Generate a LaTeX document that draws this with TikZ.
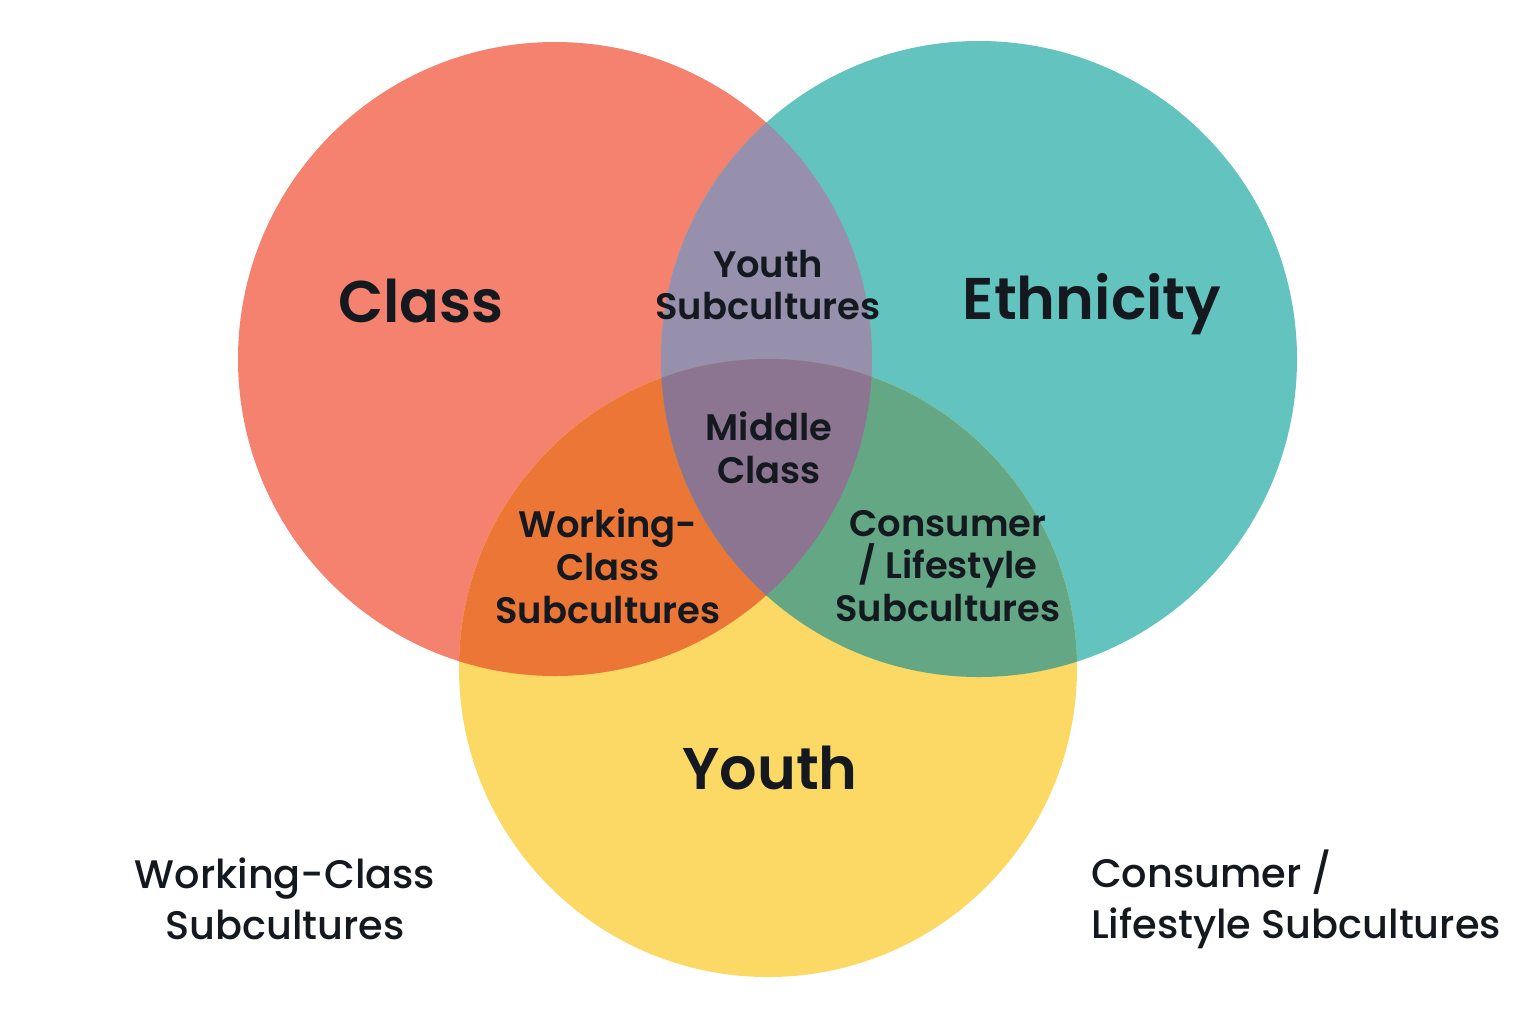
\documentclass[tikz,border=0pt]{standalone}
\usepackage{fontspec}
\setmainfont{Poppins}[BoldFont={Poppins SemiBold}]
\newfontfamily\mediumfont{Poppins Medium}
\definecolor{classred}{HTML}{F4826E}
\definecolor{ethteal}{HTML}{63C3BF}
\definecolor{youthyellow}{HTML}{FCD964}
\definecolor{classeth}{HTML}{9790AC}
\definecolor{classyouth}{HTML}{EC7636}
\definecolor{ethyouth}{HTML}{64A784}
\definecolor{allthree}{HTML}{8B7590}
\definecolor{ink}{HTML}{14181F}
\tikzset{setlabel/.style={font=\fontsize{29.5}{33}\selectfont\bfseries,text=ink},
         zonelabel/.style={font=\fontsize{18.5}{21.5}\selectfont\bfseries,text=ink,align=center},
         sidelabel/.style={font=\mediumfont\fontsize{20}{25.5}\selectfont,text=ink}}

\begin{document}
\begin{tikzpicture}[x=0.5bp,y=-0.5bp]
    \useasboundingbox (0,0) rectangle (1536,1024);
    \fill[white] (0,0) rectangle (1536,1024);
    \coordinate (class) at (555,359);
    \coordinate (eth) at (979,359);
    \coordinate (youth) at (768,668);
    % the three sets
    \fill[classred] (class) circle (317);
    \fill[ethteal] (eth) circle (318);
    \fill[youthyellow] (youth) circle (309);
    % pairwise overlaps
    \begin{scope}
        \clip (class) circle (317);
        \fill[classeth] (eth) circle (318);
        \fill[classyouth] (youth) circle (309);
    \end{scope}
    \begin{scope}
        \clip (eth) circle (318);
        \fill[ethyouth] (youth) circle (309);
    \end{scope}
    % centre
    \begin{scope}
        \clip (class) circle (317);
        \clip (eth) circle (318);
        \fill[allthree] (youth) circle (309);
    \end{scope}
    \node[setlabel] (classlbl) at (421,301) {Class};
    \node[setlabel] (ethlbl) at (1092,304) {Ethnicity};
    \node[setlabel] (youthlbl) at (770,768) {Youth};
    \node[zonelabel] (youthsub) at (768,285) {Youth\\Subcultures};
    \node[zonelabel] (middle) at (769,448) {Middle\\Class};
    \node[zonelabel] (working) at (608,566) {Working-\\Class\\Subcultures};
    \node[zonelabel] (consumer) at (948,566) {Consumer\\/ Lifestyle\\Subcultures};
    \node[sidelabel,align=center] (workingside) at (285,899) {Working-Class\\Subcultures};
    \node[sidelabel,align=left,anchor=west] (consumerside) at (1084,899) {Consumer /\\Lifestyle Subcultures};
\end{tikzpicture}
\end{document}
